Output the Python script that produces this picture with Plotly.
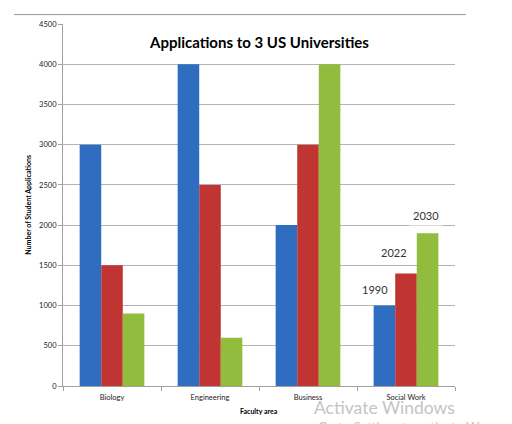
import plotly.graph_objects as go

categories = ["Biology", "Engineering", "Business", "Social Work"]
years = ["1990", "2022", "2030"]
apps_1990 = [3000, 4000, 2000, 1000]
apps_2022 = [1500, 2500, 3000, 1400]
apps_2030 = [900, 600, 4000, 1900]

colors = ["#2F6DC0", "#C03431", "#92BC3D"]
series = [apps_1990, apps_2022, apps_2030]

fig = go.Figure()
for name, vals, col in zip(years, series, colors):
    fig.add_trace(go.Bar(x=categories, y=vals, name=name, marker_color=col,
                         marker_line_width=0))

# year labels sit above the Social Work bars, on white boxes
lab_xshift = [-31, -12, 20]
lab_yshift = [6, 10, 7]
for name, vals, xs, ys in zip(years, series, lab_xshift, lab_yshift):
    fig.add_annotation(x=categories[-1], y=vals[-1], text=name, showarrow=False,
                       xshift=xs, yshift=ys, yanchor="bottom", bgcolor="white",
                       borderpad=3, font=dict(size=11, color="#333333"))

fig.add_annotation(x=0.5, y=0.98, xref="paper", yref="paper", showarrow=False,
                   xanchor="center",
                   text="<b>Applications to 3 US Universities</b>",
                   font=dict(size=15, color="black"))
fig.add_annotation(x=-0.09, y=0.5, xref="paper", yref="paper", showarrow=False,
                   xanchor="center",
                   text="<b>Number of Student Applications</b>", textangle=-90,
                   font=dict(size=7, color="black"))
fig.add_annotation(x=0.5, y=-0.07, xref="paper", yref="paper", showarrow=False,
                   xanchor="center", yanchor="middle",
                   text="<b>Faculty area</b>", font=dict(size=7, color="black"))

# screenshot watermark
fig.add_annotation(x=0.82, y=-0.06, xref="paper", yref="paper", showarrow=False,
                   xanchor="center", yanchor="middle",
                   text="Activate Windows", font=dict(size=17.5, color="#c4c4c4"))
fig.add_annotation(x=0.645, y=-0.085, xref="paper", yref="paper", showarrow=False,
                   xanchor="left", yanchor="top",
                   text="Go to Settings to activate W", font=dict(size=13, color="#c4c4c4"))

fig.add_shape(type="line", xref="paper", yref="paper", x0=-0.125, x1=1.028,
              y0=1.026, y1=1.026, line=dict(color="#9a9a9a", width=1))

fig.update_layout(
    width=504, height=416,
    margin=dict(l=55, r=57, t=16, b=38),
    plot_bgcolor="white", paper_bgcolor="white",
    font=dict(family="Lato, Open Sans, sans-serif", color="#333333"),
    barmode="group", bargap=0.34, bargroupgap=0,
    showlegend=False,
)
fig.update_xaxes(showline=True, linecolor="#a0a0a0", linewidth=1,
                 ticks="outside", tickson="boundaries", ticklen=4, tickcolor="#a0a0a0",
                 ticklabelstandoff=4,
                 tickfont=dict(size=7.5, color="#222222"), showgrid=False)
fig.update_yaxes(range=[0, 4500], dtick=500, showline=True, linecolor="#a0a0a0",
                 ticks="outside", ticklen=4, tickcolor="#a0a0a0",
                 gridcolor="#b4b4b4", gridwidth=1, zeroline=False,
                 tickfont=dict(size=7.5, color="#222222"))

fig.write_html("out.html")
